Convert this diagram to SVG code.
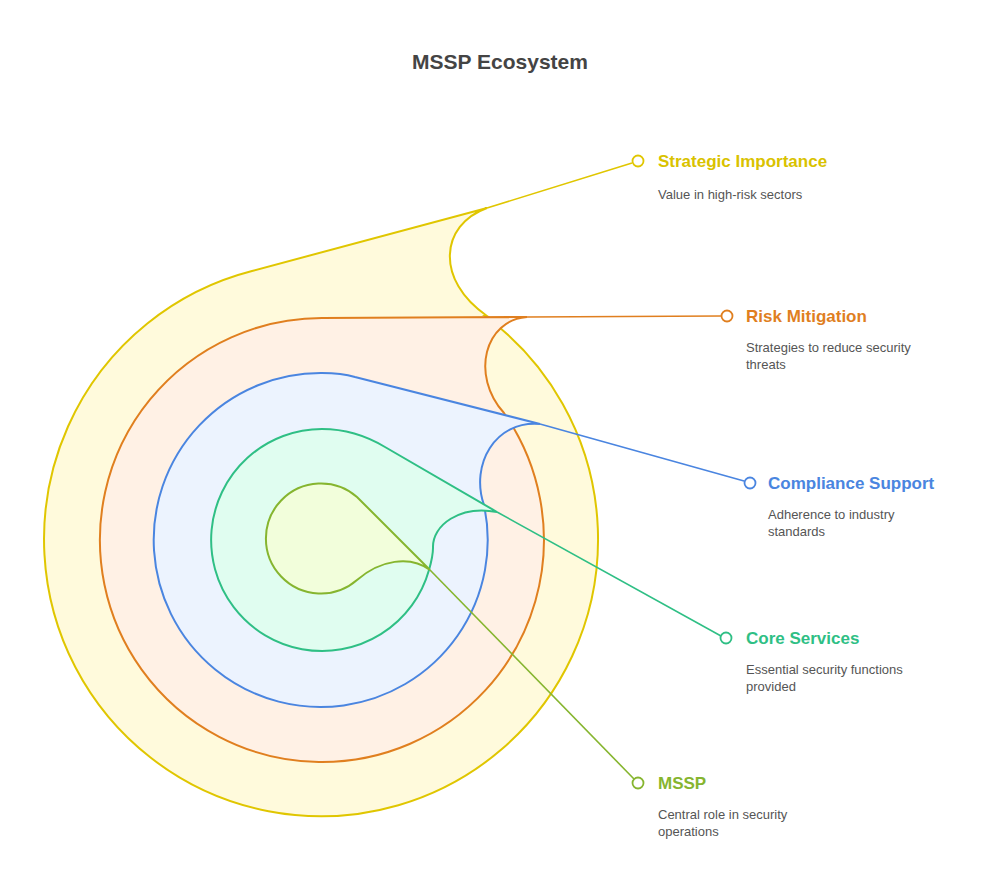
<svg xmlns="http://www.w3.org/2000/svg" width="1000" height="877" viewBox="0 0 1000 877">
<style>
.s{stroke-width:2;fill-opacity:1}
.t{font-family:"Liberation Sans",Arial,sans-serif;font-weight:bold;font-size:17px}
.d{font-family:"Liberation Sans",Arial,sans-serif;font-size:13px;fill:#555}
.c{fill:none;stroke-width:1.6}
.dot{fill:#fff;stroke-width:1.8}
</style>
<rect width="1000" height="877" fill="#fff"/>
<text x="500" y="69" text-anchor="middle" style="font-family:'Liberation Sans',Arial,sans-serif;font-weight:bold;font-size:21px;fill:#444">MSSP Ecosystem</text>
<g id="strategic"><path class="s" fill="#fffadc" stroke="#e0c600" d="M485,316 A277,277 0 1 1 252,271 L487,208 C440,225 435,280 487,316 Z"/></g>
<g id="risk"><path class="s" fill="#fff1e5" stroke="#e07f1f" d="M504,413 A222,222 0 1 1 322,318 L527,317 C485,320 470,375 504,413 Z"/></g>
<g id="compliance"><path class="s" fill="#ecf3fe" stroke="#4a85e0" d="M484,505 A167,167 0 1 1 322,373 C335,373 345,374 355,377 L540,424 C495,420 470,465 484,505 Z"/></g>
<g id="core"><path class="s" fill="#e0fdf0" stroke="#2fbf85" d="M429,570 A111,111 0 1 1 322,429 C345,429 365,435 385,447 L497,512 C460,505 432,525 433,548 C433,556 431,563 429,570 Z"/></g>
<g id="mssp"><path class="s" fill="#f2fedb" stroke="#86b52f" d="M357,580 A55,55 0 1 1 357,497 L430,570 C410,555 380,560 357,580 Z"/></g>
<g id="connectors">
<line class="c" stroke="#e0c600" x1="487" y1="208" x2="632" y2="163"/>
<line class="c" stroke="#e07f1f" x1="527" y1="317" x2="721" y2="316"/>
<line class="c" stroke="#4a85e0" x1="540" y1="424" x2="744" y2="481"/>
<line class="c" stroke="#2fbf85" x1="497" y1="512" x2="721" y2="636"/>
<line class="c" stroke="#86b52f" x1="430" y1="570" x2="634" y2="779"/>
<circle class="dot" stroke="#e0c600" cx="638" cy="161" r="5.5"/>
<circle class="dot" stroke="#e07f1f" cx="727" cy="316" r="5.5"/>
<circle class="dot" stroke="#4a85e0" cx="750" cy="483" r="5.5"/>
<circle class="dot" stroke="#2fbf85" cx="726" cy="638" r="5.5"/>
<circle class="dot" stroke="#86b52f" cx="638" cy="783" r="5.5"/>
</g>
<g id="labels">
<text class="t" x="658" y="167" fill="#d9c200">Strategic Importance</text>
<text class="d" x="658" y="199">Value in high-risk sectors</text>
<text class="t" x="746" y="322" fill="#e07f1f">Risk Mitigation</text>
<text class="d" x="746" y="352">Strategies to reduce security</text>
<text class="d" x="746" y="369">threats</text>
<text class="t" x="768" y="489" fill="#4a85e0">Compliance Support</text>
<text class="d" x="768" y="519">Adherence to industry</text>
<text class="d" x="768" y="536">standards</text>
<text class="t" x="746" y="644" fill="#2fbf85">Core Services</text>
<text class="d" x="746" y="674">Essential security functions</text>
<text class="d" x="746" y="691">provided</text>
<text class="t" x="658" y="789" fill="#86b52f">MSSP</text>
<text class="d" x="658" y="819">Central role in security</text>
<text class="d" x="658" y="836">operations</text>
</g>
</svg>
